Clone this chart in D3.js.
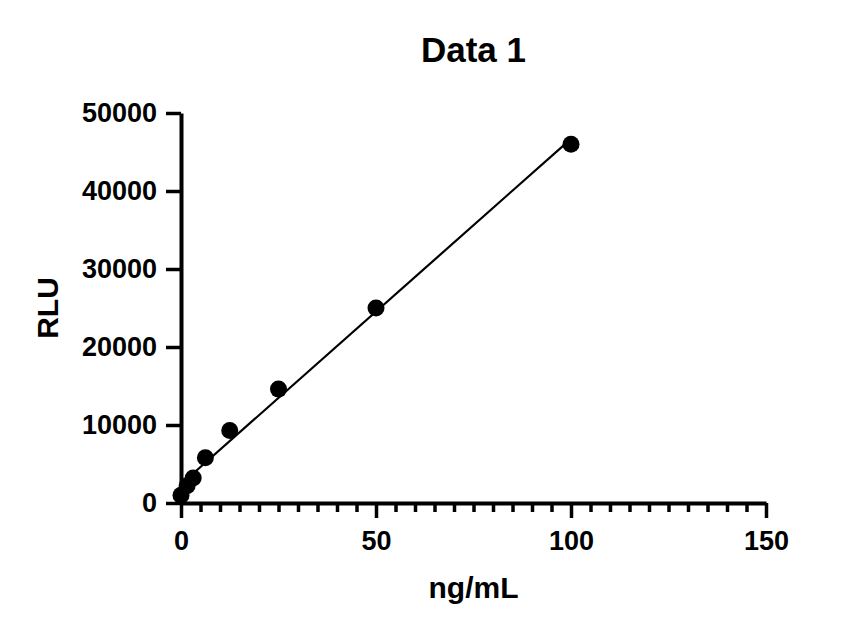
<!DOCTYPE html>
<html>
<head>
<meta charset="utf-8">
<script src="https://cdn.jsdelivr.net/npm/d3@7"></script>
<style>
  body { margin: 0; background: #fff; }
  svg { display: block; }
  text { font-family: "Liberation Sans", Arial, sans-serif; font-weight: bold; fill: #000; }
</style>
</head>
<body>
<svg id="chart"></svg>
<script>
// concentrations (ng/mL) and signal (RLU)
var conc = [0, 1.5625, 3.125, 6.25, 12.5, 25, 50, 100];
var rlu  = [1000, 2200, 3200, 5800, 9300, 14600, 25000, 46000];
var xTicks = [0, 50, 100, 150];
var yTicks = [0, 10000, 20000, 30000, 40000, 50000];

var width = 859, height = 635;
var margin = {top: 113, right: 93, bottom: 132, left: 181};
var innerWidth = width - margin.left - margin.right;
var innerHeight = height - margin.top - margin.bottom;

var svg = d3.select("#chart")
    .attr("width", width)
    .attr("height", height);

var g = svg.append("g")
    .attr("transform", "translate(" + margin.left + "," + margin.top + ")");

var xScale = d3.scaleLinear().domain([0, 150]).range([0, innerWidth]),
    yScale = d3.scaleLinear().domain([0, 50000]).range([innerHeight, 0]);

// linear regression through the points
var mx = d3.mean(conc), my = d3.mean(rlu);
var sxy = d3.sum(conc, function(d, i){ return (d - mx) * (rlu[i] - my); });
var sxx = d3.sum(conc, function(d){ return (d - mx) * (d - mx); });
var slope = sxy / sxx, intercept = my - slope * mx;

// minor x ticks
var minor = d3.range(0, 151, 5).filter(function(d){ return d % 50 !== 0; });
g.append("g")
    .attr("class", "axis axis-x-minor")
    .attr("transform", "translate(0," + innerHeight + ")")
    .call(d3.axisBottom(xScale).tickValues(minor).tickSize(9).tickFormat(""))
    .call(function(a){ a.select(".domain").remove(); a.selectAll("text").remove(); })
    .selectAll("line").attr("stroke-width", 3.5);

var xAxis = g.append("g")
    .attr("class", "axis axis-x")
    .attr("transform", "translate(0," + innerHeight + ")")
    .call(d3.axisBottom(xScale).tickValues(xTicks).tickSize(15).tickSizeOuter(0).tickPadding(13));
xAxis.select(".domain").attr("stroke-width", 4);
xAxis.selectAll("line").attr("stroke-width", 3.5);

var yAxis = g.append("g")
    .attr("class", "axis axis-y")
    .call(d3.axisLeft(yScale).tickValues(yTicks).tickSize(15).tickSizeOuter(0).tickPadding(9).tickFormat(d3.format("d")));
yAxis.select(".domain").attr("stroke-width", 4);
yAxis.selectAll("line").attr("stroke-width", 3.5);

g.selectAll(".axis").attr("font-family", null).attr("font-size", null);
g.selectAll(".axis text").style("font-size", "27px");

// fit line
g.append("line")
    .attr("x1", xScale(0))
    .attr("y1", yScale(intercept))
    .attr("x2", xScale(d3.max(conc)))
    .attr("y2", yScale(intercept + slope * d3.max(conc)))
    .attr("stroke", "#000")
    .attr("stroke-width", 2.2);

g.selectAll(".dot")
    .data(conc).enter()
    .append("circle")
      .attr("class", "dot")
      .attr("cx", function(d){ return xScale(d); })
      .attr("cy", function(d, i){ return yScale(rlu[i]); })
      .attr("r", 8.5)
      .attr("fill", "#000");

// titles
svg.append("text")
    .attr("x", margin.left + innerWidth / 2)
    .attr("y", 62)
    .attr("text-anchor", "middle")
    .style("font-size", "35px")
    .text("Data 1");

svg.append("text")
    .attr("x", margin.left + innerWidth / 2)
    .attr("y", 598)
    .attr("text-anchor", "middle")
    .style("font-size", "30px")
    .text("ng/mL");

svg.append("text")
    .attr("transform", "translate(58," + (margin.top + innerHeight / 2) + ") rotate(-90)")
    .attr("text-anchor", "middle")
    .style("font-size", "30px")
    .text("RLU");
</script>
</body>
</html>
